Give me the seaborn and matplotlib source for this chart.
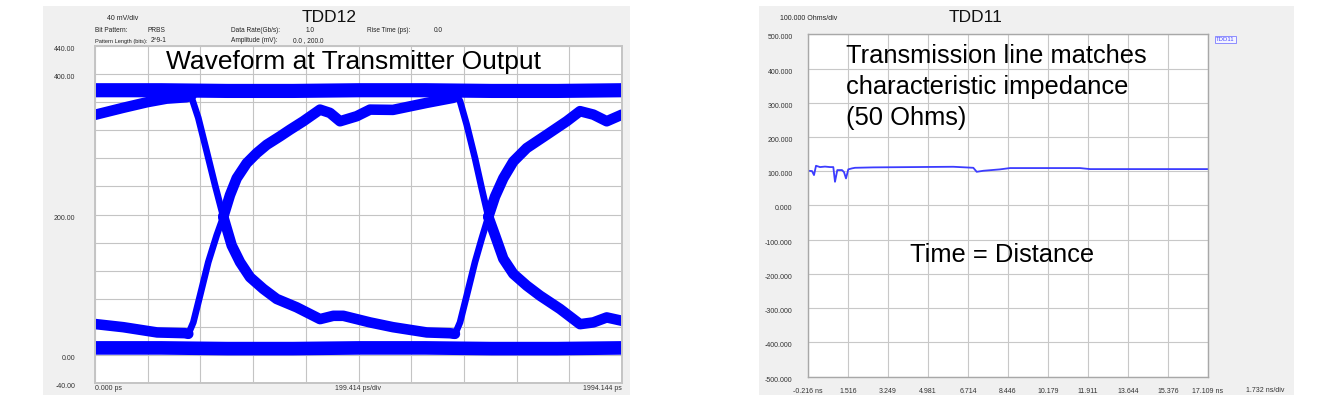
import numpy as np
import pandas as pd
import matplotlib
matplotlib.use("Agg")
import matplotlib.pyplot as plt
from matplotlib.patches import Rectangle
import seaborn as sns

# ---------------- Left panel: eye diagram TDD12 (time ps, voltage mV) ----------------
eye_title = "TDD12"
eye_scale_text = "40 mV/div"
eye_annotation = "Waveform at Transmitter Output"
eye_info_labels = ["Bit Pattern:", "Pattern Length (bits):", "Data Rate(Gb/s):", "Amplitude (mV):", "Rise Time (ps):"]
eye_info_values = ["PRBS", "2^9-1", "1.0", "0.0 , 200.0", "0.0"]
eye_xlim = [0.0, 1994.144]
eye_ylim = [-40.0, 440.0]
eye_x_grid = [0.0, 199.414, 398.829, 598.243, 797.658, 997.072, 1196.486, 1395.901, 1595.315, 1794.730, 1994.144]
eye_y_grid = [-40, 0, 40, 80, 120, 160, 200, 240, 280, 320, 360, 400, 440]
eye_ytick_values = [440, 400, 200, 0, -40]
eye_ytick_labels = ["440.00", "400.00", "200.00", "0.00", "-40.00"]
eye_xaxis_texts = ["0.000 ps", "199.414 ps/div", "1994.144 ps"]

rail_high_t = [0, 250, 500, 750, 1000, 1250, 1500, 1750, 1994]
rail_high_mv = [377, 377, 376, 376, 377, 377, 376, 376, 377]
rail_low_t = [0, 250, 500, 750, 1000, 1250, 1500, 1750, 1994]
rail_low_mv = [10, 10, 9, 9, 10, 10, 9, 9, 10]

settle_high_left_t = [0, 107, 198, 271, 347, 366]
settle_high_left_mv = [342, 352, 360, 365, 367, 370]
settle_low_left_t = [0, 107, 235, 340, 353]
settle_low_left_mv = [44, 39.5, 32, 31, 30]

fall1_edge_t = [340.6, 365.9, 390.9, 422.7, 454.1, 485.5, 517.3]
fall1_edge_mv = [374.8, 366.2, 337.6, 289.8, 242.0, 196.7, 156.0]
fall1_curve_t = [485.5, 517.3, 548.7, 586.5, 636.9, 687.6, 763.2, 851.4, 901.7, 939.6, 1040.6, 1127.6, 1255.2, 1343.3, 1362.0]
fall1_curve_mv = [196.7, 156.0, 132.2, 110.7, 94.0, 79.7, 67.8, 51.0, 55.7, 55.7, 46.3, 39.5, 32.0, 30.9, 30.0]

rise1_edge_t = [353.0, 372.0, 397.3, 428.7, 460.5, 485.5, 510.8]
rise1_edge_mv = [29.5, 46.3, 84.4, 132.2, 170.4, 196.7, 227.7]
rise1_curve_t = [485.5, 510.8, 536.2, 574.0, 611.9, 649.7, 700.0, 737.9, 788.2, 851.4, 889.2, 927.1, 990.3, 1040.6, 1127.6, 1255.2, 1355.8, 1368.0]
rise1_curve_mv = [196.7, 227.7, 251.6, 273.1, 287.4, 299.3, 311.3, 320.8, 332.8, 349.4, 344.7, 332.8, 340.0, 349.4, 349.0, 359.0, 366.2, 369.0]

fall2_edge_t = [1355.0, 1362.2, 1381.2, 1406.5, 1437.9, 1463.3, 1488.3, 1513.6]
fall2_edge_mv = [376.0, 373.4, 361.5, 328.0, 280.2, 237.3, 196.7, 170.4]
fall2_curve_t = [1488.3, 1513.6, 1545.0, 1582.9, 1633.6, 1683.9, 1759.6, 1835.2, 1885.6, 1936.3, 1994.0]
fall2_curve_mv = [196.7, 170.4, 137.0, 115.5, 98.7, 84.4, 65.5, 43.8, 46.3, 53.4, 48.6]

rise2_edge_t = [1355.0, 1362.2, 1381.2, 1406.5, 1437.9, 1463.3, 1488.3, 1513.6]
rise2_edge_mv = [28.0, 29.5, 46.3, 84.4, 132.2, 165.6, 196.7, 225.4]
rise2_curve_t = [1488.3, 1513.6, 1545.0, 1582.9, 1633.6, 1709.3, 1785.0, 1835.2, 1885.6, 1936.3, 1994.0]
rise2_curve_mv = [196.7, 225.4, 251.6, 275.5, 294.6, 313.6, 332.8, 347.2, 342.3, 332.8, 342.3]

# ---------------- Right panel: TDR impedance TDD11 (time ns, Ohms) ----------------
tdr_title = "TDD11"
tdr_scale_text = "100.000 Ohms/div"
tdr_annotation = "Transmission line matches\ncharacteristic impedance\n(50 Ohms)"
tdr_annotation2 = "Time = Distance"
tdr_legend = "TDD11"
tdr_xdiv_text = "1.732 ns/div"
tdr_t_ns = [-0.203, -0.043, 0.044, 0.131, 0.304, 0.520, 0.737, 0.880, 0.953, 1.053, 1.257, 1.343,
            1.430, 1.530, 1.690, 1.820, 2.612, 6.077, 6.944, 7.091, 7.380, 8.100, 8.533, 9.832,
            11.565, 11.998, 17.109]
tdr_ohm = [101.2, 100.3, 88.6, 115.8, 112.0, 113.4, 112.0, 112.0, 69.0, 103.2, 103.2, 97.4,
           78.9, 105.3, 108.2, 109.9, 111.1, 112.9, 109.9, 98.2, 101.2, 105.3, 109.1, 109.1,
           109.1, 106.1, 106.1]
tdr_x_ticks = [-0.216, 1.516, 3.249, 4.981, 6.714, 8.446, 10.179, 11.911, 13.644, 15.376, 17.109]
tdr_x_labels = ["-0.216 ns", "1.516", "3.249", "4.981", "6.714", "8.446", "10.179", "11.911",
                "13.644", "15.376", "17.109 ns"]
tdr_y_ticks = [-500, -400, -300, -200, -100, 0, 100, 200, 300, 400, 500]
tdr_y_labels = ["-500.000", "-400.000", "-300.000", "-200.000", "-100.000", "0.000",
                "100.000", "200.000", "300.000", "400.000", "500.000"]

# ---------------- Styling ----------------
sns.set_style("white")
plt.rcParams['font.family'] = ['Liberation Sans', 'DejaVu Sans']

W, H = 1340, 400
def px(x, y):
    return x / W, 1 - y / H

fig = plt.figure(figsize=(W / 100, H / 100), dpi=100)
fig.patch.set_facecolor('white')

PANEL_GRAY = '#F0F0F0'
for x0, x1 in [(43, 630), (759, 1294)]:
    fig.add_artist(Rectangle((x0 / W, 1 - 395 / H), (x1 - x0) / W, 389 / H,
                             transform=fig.transFigure, facecolor=PANEL_GRAY,
                             edgecolor='none', zorder=-5))

# ---- left axes ----
ax1 = fig.add_axes([95 / W, 1 - 383 / H, 527 / W, (383 - 46) / H])
ax1.set_facecolor('white')
EYE_BLUE = '#0000FF'

def band(ax, t, v, lw):
    sns.lineplot(x=t, y=v, ax=ax, color=EYE_BLUE, linewidth=lw, estimator=None,
                 sort=False, legend=False, solid_capstyle='round', solid_joinstyle='round')

band(ax1, rail_high_t, rail_high_mv, 10.2)
band(ax1, rail_low_t, rail_low_mv, 9.8)
band(ax1, settle_high_left_t, settle_high_left_mv, 7.6)
band(ax1, settle_low_left_t, settle_low_left_mv, 7.6)
band(ax1, fall1_curve_t, fall1_curve_mv, 7.6)
band(ax1, rise1_curve_t, rise1_curve_mv, 7.6)
band(ax1, fall2_curve_t, fall2_curve_mv, 7.6)
band(ax1, rise2_curve_t, rise2_curve_mv, 7.6)
band(ax1, fall1_edge_t, fall1_edge_mv, 4.8)
band(ax1, rise1_edge_t, rise1_edge_mv, 4.8)
band(ax1, fall2_edge_t, fall2_edge_mv, 4.8)
band(ax1, rise2_edge_t, rise2_edge_mv, 4.8)

ax1.set_xlim(*eye_xlim)
ax1.set_ylim(*eye_ylim)
label_map = dict(zip(eye_ytick_values, eye_ytick_labels))
ax1.set_yticks(eye_y_grid, labels=[label_map.get(v, "") for v in eye_y_grid])
ax1.set_xticks(eye_x_grid, labels=[""] * len(eye_x_grid))
ax1.tick_params(length=0, labelsize=5, pad=14, colors='#333333')
plt.setp(ax1.get_yticklabels(), va='top')
ax1.grid(True, color='#C4C4C4', linewidth=0.8)
ax1.set_axisbelow(True)
ax1.set_xlabel("")
ax1.set_ylabel("")
for side, sp in ax1.spines.items():
    sp.set_color('#C4C4C4')
    sp.set_linewidth(1.4)

fig.text(*px(95, 389), eye_xaxis_texts[0], fontsize=5, ha='left', va='center', color='#333333')
fig.text(*px(358, 389), eye_xaxis_texts[1], fontsize=5, ha='center', va='center', color='#333333')
fig.text(*px(622, 389), eye_xaxis_texts[2], fontsize=5, ha='right', va='center', color='#333333')

fig.text(*px(107, 18), eye_scale_text, fontsize=5, ha='left', va='center', color='#222222')
fig.text(*px(329, 17), eye_title, fontsize=12.5, ha='center', va='center', color='#111111')
info_pos = [(95, 30), (95, 41), (231, 30), (231, 41), (367, 30)]
value_pos = [(148, 30), (151, 41), (306, 30), (293, 41), (434, 30)]
label_sizes = [4.7, 4.1, 4.7, 4.7, 4.7]
for lab, val, (lx, ly), (vx, vy), fs in zip(eye_info_labels, eye_info_values, info_pos, value_pos, label_sizes):
    fig.text(*px(lx, ly), lab, fontsize=fs, ha='left', va='center', color='#222222')
    fig.text(*px(vx, vy), val, fontsize=4.7, ha='left', va='center', color='#222222')
fig.text(*px(353, 62), eye_annotation, fontsize=19, ha='center', va='center', color='black')

# ---- right axes ----
ax2 = fig.add_axes([808 / W, 1 - 376.5 / H, 400 / W, (376.5 - 34.3) / H])
ax2.set_facecolor('white')
sns.lineplot(x=tdr_t_ns, y=tdr_ohm, ax=ax2, color='#3C3CFF', linewidth=1.3,
             estimator=None, sort=False, legend=False)
ax2.set_xlim(tdr_x_ticks[0], tdr_x_ticks[-1])
ax2.set_ylim(tdr_y_ticks[0], tdr_y_ticks[-1])
ax2.set_xticks(tdr_x_ticks, labels=tdr_x_labels)
ax2.set_yticks(tdr_y_ticks, labels=tdr_y_labels)
ax2.tick_params(axis='y', length=0, labelsize=5, pad=11, colors='#333333')
ax2.tick_params(axis='x', length=0, labelsize=5, pad=8, colors='#333333')
plt.setp(ax2.get_yticklabels(), va='top')
ax2.grid(True, color='#C8C8C8', linewidth=0.8)
ax2.set_axisbelow(True)
ax2.set_xlabel("")
ax2.set_ylabel("")
for side, sp in ax2.spines.items():
    sp.set_color('#A8A8A8')
    sp.set_linewidth(1.0)

fig.text(*px(780, 18.5), tdr_scale_text, fontsize=5, ha='left', va='center', color='#222222')
fig.text(*px(976, 17), tdr_title, fontsize=12.5, ha='center', va='center', color='#111111')
fig.text(*px(846, 87), tdr_annotation, fontsize=18.4, ha='left', va='center',
         linespacing=1.36, color='black')
fig.text(*px(1002, 255), tdr_annotation2, fontsize=18.4, ha='center', va='center', color='black')
fig.text(*px(1265, 390), tdr_xdiv_text, fontsize=5, ha='center', va='center', color='#333333')
fig.text(*px(1225.5, 39.5), tdr_legend, fontsize=4.3, ha='center', va='center', color='#4A4AFF',
         bbox=dict(boxstyle='square,pad=0.25', facecolor='#F4F4FF', edgecolor='#8C8CFF', linewidth=0.7))

fig.savefig("out.png", dpi=100, facecolor='white')
